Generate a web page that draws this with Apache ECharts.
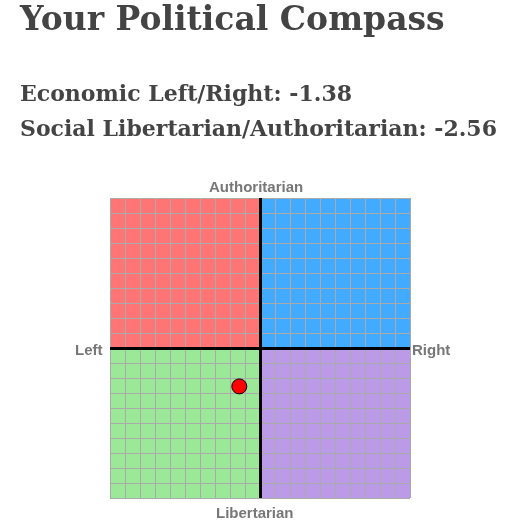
<!DOCTYPE html>
<html><head><meta charset="utf-8">
<script src="https://cdn.jsdelivr.net/npm/echarts@6/dist/echarts.min.js"></script>
<style>html,body{margin:0;padding:0;background:#fff}#c{width:508px;height:528px}</style>
</head><body><div id="c"></div>
<script>
const titleText = "Your Political Compass";
const economicLine = "Economic Left/Right: -1.38";
const socialLine = "Social Libertarian/Authoritarian: -2.56";
const axisLabels = ["Left", "Right", "Authoritarian", "Libertarian"];
const quadrantColors = ["#ff7575", "#42aaff", "#9ae898", "#bb9be8"];
const quadrants = [[-10, 0, 0, 10], [0, 0, 10, 10], [-10, -10, 0, 0], [0, -10, 10, 0]];
const gridTicks = [-10,-9,-8,-7,-6,-5,-4,-3,-2,-1,1,2,3,4,5,6,7,8,9,10];
const scoreEconomic = -1.38;
const scoreSocial = -2.56;

const chart = echarts.init(document.getElementById('c'));
const serif = '"DejaVu Serif", "Liberation Serif", serif';
const lbl = {fill: '#777', font: 'bold 15px "Liberation Sans", Arial, sans-serif'};
const grayLines = [];
gridTicks.forEach(v => {
  grayLines.push({xAxis: v});
  grayLines.push({yAxis: v});
});
chart.setOption({
  animation: false,
  grid: {left: 110, top: 198, width: 300, height: 300},
  xAxis: {type: 'value', min: -10, max: 10, interval: 1, show: true,
    axisLine: {show: false}, axisTick: {show: false}, axisLabel: {show: false}, splitLine: {show: false}},
  yAxis: {type: 'value', min: -10, max: 10, interval: 1, show: true,
    axisLine: {show: false}, axisTick: {show: false}, axisLabel: {show: false}, splitLine: {show: false}},
  graphic: [
    {type: 'text', left: 20, top: 5, style: {text: titleText, fill: '#444', font: 'bold 33px ' + serif}},
    {type: 'text', left: 20, top: 84, style: {text: economicLine, fill: '#444', font: 'bold 22px ' + serif}},
    {type: 'text', left: 20, top: 119, style: {text: socialLine, fill: '#444', font: 'bold 22px ' + serif}},
    {type: 'text', left: 75, top: 343, style: Object.assign({text: axisLabels[0]}, lbl)},
    {type: 'text', left: 412, top: 343, style: Object.assign({text: axisLabels[1]}, lbl)},
    {type: 'text', left: 209, top: 180, style: Object.assign({text: axisLabels[2]}, lbl)},
    {type: 'text', left: 216, top: 506, style: Object.assign({text: axisLabels[3]}, lbl)}
  ],
  series: [
    {type: 'scatter', data: [], z: 1, silent: true,
      markArea: {silent: true, data: quadrants.map((q, i) => [
        {coord: [q[0], q[1]], itemStyle: {color: quadrantColors[i], opacity: 1}},
        {coord: [q[2], q[3]]}])}},
    {type: 'scatter', data: [], z: 3, silent: true,
      markLine: {silent: true, symbol: 'none', label: {show: false},
        lineStyle: {color: '#aaa', width: 1, type: 'solid'}, data: grayLines}},
    {type: 'scatter', data: [], z: 4, silent: true,
      markLine: {silent: true, symbol: 'none', label: {show: false},
        lineStyle: {color: '#000', width: 3, type: 'solid'}, data: [{xAxis: 0}, {yAxis: 0}]}},
    {type: 'scatter', z: 10, symbolSize: 15, data: [[scoreEconomic, scoreSocial]],
      itemStyle: {color: '#f00', borderColor: '#000', borderWidth: 1, opacity: 1}}
  ]
});
</script></body></html>
